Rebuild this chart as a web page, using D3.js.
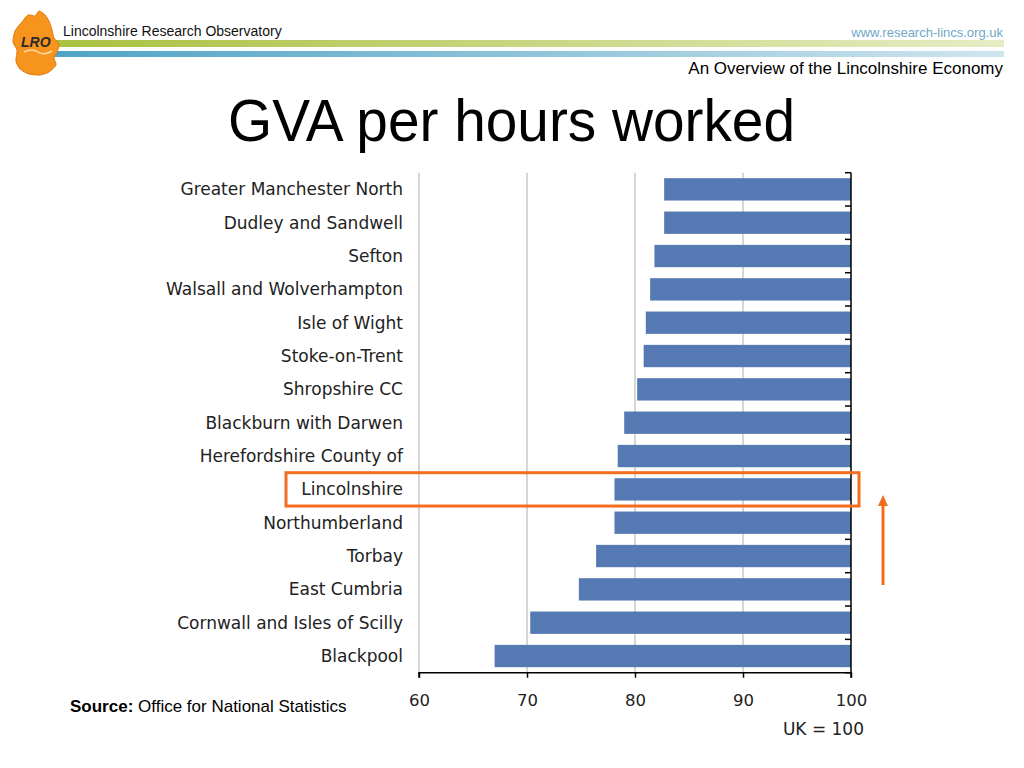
<!DOCTYPE html>
<html>
<head>
<meta charset="utf-8">
<script src="https://cdn.jsdelivr.net/npm/d3@7"></script>
<style>
  body { margin: 0; background: #fff; }
  svg { display: block; }
</style>
</head>
<body>
<div id="chart-area"></div>
<script>
var regions = ["Greater Manchester North", "Dudley and Sandwell", "Sefton",
    "Walsall and Wolverhampton", "Isle of Wight", "Stoke-on-Trent", "Shropshire CC",
    "Blackburn with Darwen", "Herefordshire County of", "Lincolnshire",
    "Northumberland", "Torbay", "East Cumbria", "Cornwall and Isles of Scilly", "Blackpool"];
var values = [82.7, 82.7, 81.8, 81.4, 81.0, 80.8, 80.2, 79.0, 78.4, 78.1, 78.1, 76.4, 74.8, 70.3, 67.0];
var xTicks = [60, 70, 80, 90, 100];
var highlight = "Lincolnshire";

var width = 1024, height = 768;
var orange = "#f26d1d";
var labelFont = "'DejaVu Sans', Verdana, sans-serif";

var svg = d3.select("#chart-area").append("svg")
    .attr("width", width)
    .attr("height", height)
    .style("font-family", "Arial, 'Liberation Sans', sans-serif");

// ---- header ----
var defs = svg.append("defs");
var gGreen = defs.append("linearGradient").attr("id", "gGreen");
gGreen.append("stop").attr("offset", "0%").attr("stop-color", "#a9c13f");
gGreen.append("stop").attr("offset", "100%").attr("stop-color", "#e6ecc4");
var gBlue = defs.append("linearGradient").attr("id", "gBlue");
gBlue.append("stop").attr("offset", "0%").attr("stop-color", "#4fa3c6");
gBlue.append("stop").attr("offset", "100%").attr("stop-color", "#cfe5ee");

svg.append("rect").attr("x", 50).attr("y", 40).attr("width", 954).attr("height", 7).attr("fill", "url(#gGreen)");
svg.append("rect").attr("x", 50).attr("y", 51).attr("width", 954).attr("height", 6).attr("fill", "url(#gBlue)");

// rough county shape for the logo
var logoPts = [[22,22],[28,15],[35,16],[39,11],[45,15],[49,21],[52,30],[54,38],[59,44],[57,52],[54,58],[56,65],[49,72],[40,75],[29,74],[20,69],[16,61],[17,50],[13,42],[15,31]];
svg.append("path")
    .attr("d", d3.line().curve(d3.curveCardinalClosed.tension(0.3))(logoPts))
    .attr("fill", "#f7941d")
    .attr("stroke", "#e07a10")
    .attr("stroke-width", 1);
svg.append("path")
    .attr("d", "M24,52 Q32,48 38,52 T52,51")
    .attr("fill", "none").attr("stroke", "#fbd9a8").attr("stroke-width", 1.5);
svg.append("text")
    .attr("x", 21).attr("y", 47)
    .attr("font-size", "14px").attr("font-weight", "bold").attr("font-style", "italic")
    .attr("fill", "#2a2a2a")
    .text("LRO");

svg.append("text").attr("x", 63).attr("y", 36).attr("font-size", "14px").attr("fill", "#111")
    .text("Lincolnshire Research Observatory");
svg.append("text").attr("x", 1003).attr("y", 37).attr("font-size", "13px").attr("fill", "#6fa8c6")
    .attr("text-anchor", "end").text("www.research-lincs.org.uk");
svg.append("text").attr("x", 1003).attr("y", 74).attr("font-size", "17px").attr("fill", "#000")
    .attr("text-anchor", "end").text("An Overview of the Lincolnshire Economy");

svg.append("text").attr("x", 228).attr("y", 141).attr("font-size", "60px").attr("fill", "#000")
    .attr("textLength", 567).attr("lengthAdjust", "spacingAndGlyphs")
    .text("GVA per hours worked");

// ---- chart ----
var x = d3.scaleLinear().domain([60, 100]).range([419, 851]);
var y = d3.scaleBand().domain(regions).range([172.7, 672.7])
    .paddingInner(0.33).paddingOuter(0.165);
var step = y.step();
var gap = (step - y.bandwidth()) / 2;

var g = svg.append("g");

// gridlines
g.selectAll(".grid").data(xTicks.slice(0, -1)).enter()
    .append("line")
    .attr("x1", d => x(d)).attr("x2", d => x(d))
    .attr("y1", y.range()[0]).attr("y2", y.range()[1])
    .attr("stroke", "#c9c9c9").attr("stroke-width", 1.5);

// bars
g.selectAll(".bar").data(values).enter()
    .append("rect")
    .attr("x", d => x(d))
    .attr("y", (d, i) => y(regions[i]))
    .attr("width", d => x(100) - x(d))
    .attr("height", y.bandwidth())
    .attr("fill", "#5479b3");

// right-hand axis at 100
g.append("line")
    .attr("x1", x(100)).attr("x2", x(100))
    .attr("y1", y.range()[0]).attr("y2", y.range()[1])
    .attr("stroke", "#000").attr("stroke-width", 1.5);
g.selectAll(".rtick").data(d3.range(regions.length + 1)).enter()
    .append("line")
    .attr("x1", x(100) - 6).attr("x2", x(100))
    .attr("y1", i => y.range()[0] + i * step).attr("y2", i => y.range()[0] + i * step)
    .attr("stroke", "#000").attr("stroke-width", 1.5);

// category labels
g.selectAll(".label").data(regions).enter()
    .append("text")
    .attr("x", 403)
    .attr("y", d => y(d) + y.bandwidth() / 2)
    .attr("dy", "0.35em")
    .attr("text-anchor", "end")
    .attr("font-family", labelFont)
    .attr("font-size", "17px")
    .attr("fill", "#222")
    .text(d => d);

// bottom axis
var bottomAxis = d3.axisBottom(x).tickValues(xTicks).tickSize(5).tickPadding(17);
var ax = g.append("g")
    .attr("transform", "translate(0," + y.range()[1] + ")")
    .call(bottomAxis);
ax.select(".domain").attr("stroke", "#000").attr("stroke-width", 1.5)
    .attr("d", "M" + x(60) + ",5V0H" + x(100) + "V5");
ax.selectAll(".tick line").attr("stroke", "#000").attr("stroke-width", 1.5);
ax.selectAll(".tick text")
    .attr("font-family", labelFont).attr("font-size", "16.5px").attr("fill", "#222");

g.append("text")
    .attr("x", x(100) + 13).attr("y", 735)
    .attr("text-anchor", "end")
    .attr("font-family", labelFont).attr("font-size", "17px").attr("fill", "#222")
    .text("UK = 100");

// highlight box round Lincolnshire
g.append("rect")
    .attr("x", 286)
    .attr("y", y(highlight) - gap)
    .attr("width", x(100) + 8 - 286)
    .attr("height", step)
    .attr("fill", "none")
    .attr("stroke", orange)
    .attr("stroke-width", 3);

// upward arrow
var ax0 = x(100) + 32;
g.append("line")
    .attr("x1", ax0).attr("x2", ax0)
    .attr("y1", 585).attr("y2", 505)
    .attr("stroke", orange).attr("stroke-width", 3);
g.append("path")
    .attr("d", "M" + (ax0 - 5) + ",506 L" + ax0 + ",495 L" + (ax0 + 5) + ",506 Z")
    .attr("fill", orange);

// source
var src = svg.append("text").attr("x", 70).attr("y", 712).attr("font-size", "17px").attr("fill", "#000");
src.append("tspan").attr("font-weight", "bold").text("Source:");
src.append("tspan").text(" Office for National Statistics");
</script>
</body>
</html>
